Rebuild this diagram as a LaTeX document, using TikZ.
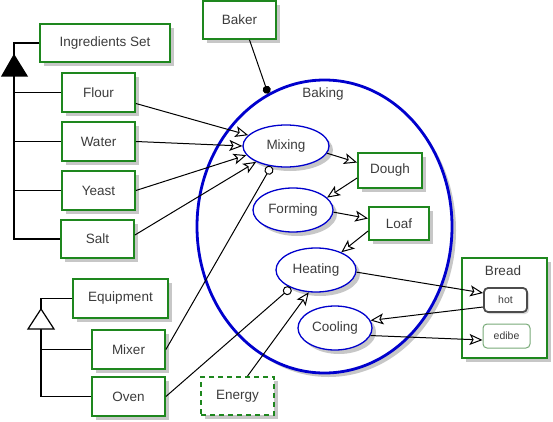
\documentclass[tikz,border=0pt]{standalone}
\usepackage{fontspec}
\setmainfont{Liberation Sans}
\usetikzlibrary{arrows.meta,shadows,shapes.geometric}

\definecolor{boxgreen}{RGB}{30,135,30}
\definecolor{ellblue}{RGB}{0,0,205}
\definecolor{txtgrey}{RGB}{60,60,60}
\definecolor{lightgreen}{RGB}{120,170,120}

\tikzset{
  dropshade/.style={drop shadow={shadow xshift=4pt, shadow yshift=-4pt, fill=black!22, opacity=1}},
  thing/.style={draw=boxgreen, line width=1.8pt, fill=white, dropshade, text=txtgrey, inner sep=0pt},
  process/.style={ellipse, draw=ellblue, line width=1.3pt, fill=white, dropshade, text=txtgrey, inner sep=0pt},
  state/.style={rounded corners=4pt, fill=white, text=txtgrey, inner sep=0pt, font=\fontsize{10.5}{12}\selectfont},
  flow/.style={-{Stealth[open, fill=white, length=13pt, width=11pt, inset=3pt]}, line width=1pt},
  agent/.style={{Circle[length=8pt]}-, line width=1pt},
  instr/.style={{Circle[open, fill=white, length=9pt]}-, line width=1pt},
  tree/.style={line width=1.2pt},
}

\begin{document}
\begin{tikzpicture}[x=1pt, y=-1pt, font=\fontsize{13.5}{16}\selectfont]
  \useasboundingbox (0,0) rectangle (553,422);

  % the big process and the ones inside it
  \node[process, line width=2.8pt, minimum width=255pt, minimum height=293pt] (baking) at (324.5,226.5) {};
  \node[text=txtgrey] (bakinglbl) at (323,94) {Baking};
  \node[process, minimum width=86pt, minimum height=42pt] (mixing) at (286,146) {Mixing};
  \node[process, minimum width=80pt, minimum height=44pt] (forming) at (293,210) {Forming};
  \node[process, minimum width=80pt, minimum height=44pt] (heating) at (316,270) {Heating};
  \node[process, minimum width=74pt, minimum height=44pt] (cooling) at (335,328) {Cooling};
  \node[thing, minimum width=64pt, minimum height=35pt] (dough) at (390,170.5) {Dough};
  \node[thing, minimum width=60pt, minimum height=33pt] (loaf) at (399,223.5) {Loaf};

  % objects
  \node[thing, minimum width=73pt, minimum height=38pt] (baker) at (239.5,20) {Baker};
  \node[thing, minimum width=130pt, minimum height=38pt] (ingset) at (105,43) {Ingredients Set};
  \node[thing, minimum width=73pt, minimum height=39pt] (flour) at (98.5,92.5) {Flour};
  \node[thing, minimum width=73pt, minimum height=39pt] (water) at (98.5,141.5) {Water};
  \node[thing, minimum width=73pt, minimum height=39pt] (yeast) at (98.5,190.5) {Yeast};
  \node[thing, minimum width=73pt, minimum height=38pt] (salt) at (97.5,239) {Salt};
  \node[thing, minimum width=95pt, minimum height=39pt] (equip) at (120.5,298.5) {Equipment};
  \node[thing, minimum width=73pt, minimum height=39pt] (mixer) at (128.5,349.5) {Mixer};
  \node[thing, minimum width=73pt, minimum height=39pt] (oven) at (128.5,396.5) {Oven};
  \node[thing, dash pattern=on 5pt off 4pt, minimum width=73pt, minimum height=38pt] (energy) at (237.5,396) {Energy};

  % bread with its two states
  \node[thing, minimum width=85pt, minimum height=100pt] (bread) at (504.5,308) {};
  \node[text=txtgrey] (breadlbl) at (503,271) {Bread};
  \node[state, draw=black!70, line width=1.8pt, minimum width=43pt, minimum height=24pt,
        drop shadow={shadow xshift=2pt, shadow yshift=-2pt, fill=black!15, opacity=1}] (hot) at (505.5,300) {hot};
  \node[state, draw=lightgreen, line width=1pt, minimum width=47pt, minimum height=24pt] (edibe) at (506.5,336) {edibe};

  % ingredients hierarchy
  \coordinate (ingtip) at (14,55);
  \coordinate (ingroot) at (14,76);
  \draw[tree] (ingset.west) -| (ingtip);
  \draw[tree] (ingroot) |- (salt.west);
  \foreach \n in {flour,water,yeast}
    \draw[tree] (\n.west) -- (\n.west -| ingroot);
  \draw[tree, fill=black] (ingtip) -- (2,76) -- (27,76) -- cycle;

  % equipment hierarchy
  \coordinate (eqtip) at (41,309);
  \coordinate (eqroot) at (41,329);
  \draw[tree] (equip.west) -| (eqtip);
  \draw[tree] (eqroot) |- (oven.west);
  \draw[tree] (mixer.west) -- (mixer.west -| eqroot);
  \draw[tree, fill=white] (eqtip) -- (28,329) -- (54,329) -- cycle;

  % links
  \draw[agent] (baking.113) -- ([xshift=10pt]baker.south);
  \draw[flow] ([yshift=-11pt]flour.east) -- (mixing.164);
  \draw[flow] (water.east) -- (mixing.180);
  \draw[flow] (yeast.east) -- (mixing.193);
  \draw[flow] ([yshift=4pt]salt.east) -- (mixing.208);
  \draw[instr] (mixing.234) -- (mixer.east);
  \draw[instr] (heating.215) -- (oven.east);
  \draw[flow] ([xshift=10pt]energy.north) -- (heating.252);

  \draw[flow] (mixing.350) -- ([yshift=8pt]dough.west);
  \draw[flow] ([yshift=-7.5pt]dough.west) -- (forming.20);
  \draw[flow] (forming.-3) -- ([yshift=5pt]loaf.west);
  \draw[flow] ([yshift=-7.5pt]loaf.west) -- (heating.35);
  \draw[flow] (heating.-3) -- ([yshift=7pt]hot.west);
  \draw[flow] ([yshift=-7pt]hot.west) -- (cooling.12);
  \draw[flow] (cooling.-12) -- ([yshift=-4pt]edibe.west);
\end{tikzpicture}
\end{document}
